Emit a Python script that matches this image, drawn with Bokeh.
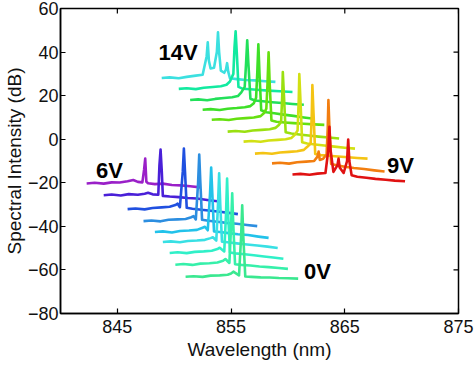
import math
from bokeh.plotting import figure
from bokeh.models import FixedTicker, Range1d, Label
from bokeh.embed import file_html
from bokeh.resources import INLINE

# ---------------- data ----------------
x_ticks = [845, 855, 865, 875]
y_ticks = [-80, -60, -40, -20, 0, 20, 40, 60]
x_lo, x_hi = 840, 875
y_lo, y_hi = -80, 60

# lower group: 6V (top) ... 0V (bottom)
wl_L1 = [842.3, 843.0, 843.8, 844.5, 845.2, 845.9, 846.4, 846.8, 847.2, 847.35, 847.45, 847.55, 847.7, 848.3, 849.0, 849.8, 850.6, 851.4, 852.3]
db_L1 = [-20.3, -20.0, -20.4, -19.8, -19.9, -19.3, -18.7, -19.6, -19.8, -14, -8.9, -19.5, -20.2, -20.6, -20.4, -21.0, -21.2, -21.6, -22.1]
wl_L2 = [843.8, 844.5, 845.3, 846.0, 846.8, 847.4, 847.7, 848.1, 848.6, 848.7, 848.8, 848.9, 849.0, 849.6, 850.4, 851.2, 852.0, 852.9, 853.8]
db_L2 = [-25.7, -25.4, -25.8, -25.2, -25.5, -25.0, -24.6, -25.3, -25.5, -12, -4.8, -14, -26.0, -26.3, -26.6, -27.0, -27.2, -27.9, -28.5]
wl_L3 = [845.9, 846.6, 847.4, 848.1, 848.9, 849.6, 850.1, 850.3, 850.5, 850.75, 850.85, 850.95, 851.1, 851.6, 852.4, 853.2, 854.0, 854.8, 855.6]
db_L3 = [-32.1, -31.8, -32.2, -31.6, -31.3, -31.0, -30.2, -29.6, -31.2, -15, -4.3, -15, -31.5, -31.9, -32.4, -32.8, -33.3, -33.8, -34.4]
wl_L4 = [847.3, 848.0, 848.8, 849.5, 850.3, 851.0, 851.5, 851.7, 851.9, 852.1, 852.2, 852.3, 852.45, 853.0, 853.8, 854.6, 855.5, 856.4, 857.3]
db_L4 = [-37.6, -37.3, -37.7, -37.0, -36.8, -36.6, -35.8, -35.3, -36.8, -20, -7.0, -20, -37.0, -37.4, -37.9, -38.4, -38.8, -39.4, -39.9]
wl_L5 = [848.3, 849.0, 849.8, 850.5, 851.3, 852.0, 852.5, 852.7, 852.95, 853.15, 853.25, 853.35, 853.5, 854.0, 854.8, 855.6, 856.5, 857.4, 858.3]
db_L5 = [-42.6, -42.3, -42.8, -42.1, -41.9, -41.6, -40.6, -40.2, -41.8, -25, -13.0, -25, -42.3, -42.6, -43.1, -43.6, -44.0, -44.7, -45.3]
wl_L6 = [849.0, 849.7, 850.5, 851.2, 852.0, 852.7, 853.2, 853.4, 853.7, 853.85, 853.95, 854.05, 854.2, 854.7, 855.5, 856.4, 857.3, 858.2, 859.1]
db_L6 = [-47.2, -46.9, -47.3, -46.7, -46.5, -46.2, -45.4, -45.0, -46.5, -30, -15.7, -30, -47.0, -47.3, -47.8, -48.3, -48.8, -49.3, -49.9]
wl_L7 = [849.6, 850.3, 851.1, 851.8, 852.6, 853.3, 853.8, 854.0, 854.4, 854.55, 854.65, 854.75, 854.9, 855.4, 856.2, 857.0, 857.9, 858.7, 859.6]
db_L7 = [-52.2, -51.9, -52.3, -51.7, -51.5, -51.2, -50.4, -49.8, -51.5, -35, -18.0, -35, -52.0, -52.4, -52.8, -53.3, -53.8, -54.3, -54.9]
wl_L8 = [850.1, 850.8, 851.6, 852.3, 853.1, 853.8, 854.3, 854.5, 854.85, 855.0, 855.1, 855.2, 855.35, 855.9, 856.7, 857.5, 858.3, 859.2, 860.0]
db_L8 = [-57.6, -57.3, -57.7, -57.1, -56.9, -56.6, -55.8, -55.0, -56.8, -40, -24.8, -40, -57.4, -57.7, -58.0, -58.4, -58.7, -59.1, -59.5]
wl_L9 = [851.0, 851.7, 852.5, 853.2, 854.0, 854.7, 855.0, 855.2, 855.7, 855.88, 855.98, 856.08, 856.25, 856.8, 857.6, 858.4, 859.2, 860.0, 860.9]
db_L9 = [-63.1, -62.9, -63.2, -62.6, -62.5, -62.2, -61.6, -60.8, -62.5, -45, -30.3, -45, -63.0, -63.2, -63.4, -63.5, -63.7, -63.8, -64.0]

# upper group: 14V (top) ... 9V (bottom)
wl_U1 = [848.9, 849.6, 850.4, 851.1, 851.9, 852.5, 852.85, 852.95, 853.05, 853.2, 853.5, 853.75, 853.85, 853.95, 854.1, 854.4, 854.55, 854.65, 854.75, 854.9, 855.5, 856.3, 857.1, 858.0, 858.9]
db_U1 = [28.1, 28.4, 28.0, 28.6, 29.2, 29.6, 38, 44.5, 36, 32.5, 32.8, 40, 49.1, 40, 31.5, 30.5, 32, 34.9, 31, 28.0, 27.6, 27.2, 27.0, 26.6, 26.3]
wl_U2 = [850.4, 851.1, 851.9, 852.6, 853.4, 854.1, 854.6, 854.9, 855.2, 855.3, 855.4, 855.5, 855.65, 856.0, 856.7, 857.5, 858.3, 859.3, 860.4]
db_U2 = [23.1, 23.4, 23.0, 23.6, 24.0, 24.3, 25.0, 26.5, 30, 42, 49.5, 40, 24.0, 23.2, 22.9, 22.6, 22.3, 22.0, 21.7]
wl_U3 = [851.4, 852.1, 852.9, 853.6, 854.4, 855.1, 855.6, 855.9, 856.2, 856.32, 856.42, 856.52, 856.7, 857.1, 857.8, 858.6, 859.5, 860.4, 861.4]
db_U3 = [18.0, 18.3, 17.9, 18.5, 18.9, 19.3, 19.8, 21.5, 24, 35, 45.4, 35, 18.6, 17.8, 17.4, 17.0, 16.6, 16.2, 15.8]
wl_U4 = [852.5, 853.2, 854.0, 854.7, 855.5, 856.2, 856.7, 857.0, 857.2, 857.3, 857.4, 857.5, 857.65, 858.1, 858.8, 859.6, 860.5, 861.4, 862.3]
db_U4 = [13.5, 13.8, 13.4, 14.0, 14.3, 14.7, 15.2, 16.5, 19, 30, 43.6, 30, 13.3, 12.4, 11.9, 11.3, 10.7, 10.0, 9.4]
wl_U5 = [853.3, 854.0, 854.8, 855.5, 856.3, 857.0, 857.6, 857.9, 858.1, 858.2, 858.3, 858.4, 858.55, 859.0, 859.7, 860.5, 861.4, 862.3, 863.2]
db_U5 = [8.9, 9.2, 8.8, 9.4, 9.7, 10.0, 10.6, 12.0, 14, 25, 39.9, 25, 8.6, 8.0, 7.7, 7.4, 7.1, 6.8, 6.6]
wl_U6 = [854.7, 855.4, 856.2, 856.9, 857.7, 858.4, 858.9, 859.2, 859.4, 859.5, 859.55, 859.65, 859.8, 860.3, 861.0, 861.8, 862.7, 863.6, 864.5]
db_U6 = [3.5, 3.8, 3.4, 4.0, 4.3, 4.6, 5.2, 6.5, 8, 20, 30.8, 20, 3.2, 2.6, 2.2, 1.7, 1.2, 0.8, 0.3]
wl_U7 = [856.1, 856.8, 857.6, 858.3, 859.1, 859.8, 860.3, 860.6, 860.85, 860.95, 861.0, 861.1, 861.25, 861.7, 862.4, 863.2, 864.1, 865.0, 865.9]
db_U7 = [-1.1, -0.8, -1.2, -0.6, -0.3, 0.0, 0.6, 2.0, 4, 18, 29.9, 18, -1.4, -2.0, -2.4, -2.9, -3.4, -3.9, -4.3]
wl_U8 = [857.1, 857.8, 858.6, 859.3, 860.1, 860.8, 861.4, 861.7, 862.0, 862.1, 862.15, 862.25, 862.4, 862.9, 863.6, 864.4, 865.3, 866.1, 867.0]
db_U8 = [-6.6, -6.3, -6.7, -6.1, -5.8, -5.5, -4.9, -3.5, -2, 12, 24.9, 12, -6.8, -7.3, -7.6, -7.9, -8.3, -8.6, -8.9]
wl_U9 = [858.6, 859.3, 860.1, 860.8, 861.6, 862.3, 862.6, 862.7, 862.8, 863.1, 863.4, 863.5, 863.56, 863.65, 863.8, 864.3, 865.0, 865.8, 866.7, 867.6, 868.5]
db_U9 = [-11.1, -10.8, -11.2, -10.6, -10.3, -10.0, -8, -5.7, -9.5, -9.0, -7, 5, 18.0, 5, -11.4, -12.0, -12.6, -13.2, -13.7, -14.3, -14.8]
wl_U10 = [860.4, 861.1, 861.9, 862.6, 863.3, 863.55, 863.65, 863.75, 864.0, 864.35, 864.45, 864.55, 864.9, 865.2, 865.3, 865.4, 865.6, 866.1, 866.9, 867.7, 868.6, 869.4, 870.3]
db_U10 = [-16.2, -15.9, -16.3, -15.8, -15.5, -5, 5.7, -5, -15.0, -12, -8.9, -13, -15.5, -10, -0.2, -10, -16.5, -17.2, -17.7, -18.2, -18.6, -19.0, -19.3]

lower_colors = ["#9a20c8", "#4a20d8", "#2050e0", "#2c8ee0", "#22c2ea", "#38e0e4", "#30f0c8", "#36f0aa", "#3ae890"]
upper_colors = ["#3ce0e0", "#12eaa0", "#22e05a", "#3ee028", "#66e010", "#9ae010", "#d2e014", "#f4c414", "#f27e10", "#e01212"]

labels = ["14V", "6V", "9V", "0V"]
label_wl = [850.35, 844.3, 869.9, 862.6]
label_db = [39.7, -14.3, -12.0, -60.8]

# ---------------- figure ----------------
p = figure(width=474, height=366, output_backend="svg", toolbar_location=None,
           x_range=Range1d(x_lo, x_hi), y_range=Range1d(y_lo, y_hi),
           min_border_left=58, min_border_right=16, min_border_top=8, min_border_bottom=53)
p.background_fill_color = "white"
p.border_fill_color = "white"
p.outline_line_color = "black"
p.outline_line_width = 1.5
p.grid.visible = False

FONT = "Liberation Sans"

for ax in (p.xaxis[0], p.yaxis[0]):
    ax.major_tick_in = 5
    ax.major_tick_out = 0
    ax.minor_tick_in = 0
    ax.minor_tick_out = 0
    ax.axis_line_color = "black"
    ax.axis_line_width = 1.5
    ax.major_tick_line_color = "black"
    ax.major_tick_line_width = 1.2
    ax.major_label_text_font = FONT
    ax.major_label_text_font_size = "18px"
    ax.major_label_text_color = "#111111"
    ax.axis_label_text_font = FONT
    ax.axis_label_text_font_size = "19px"
    ax.axis_label_text_font_style = "normal"
    ax.axis_label_text_color = "#111111"

p.xaxis[0].major_label_standoff = 6
p.xaxis[0].axis_label_standoff = 3
p.yaxis[0].major_label_standoff = 2
p.yaxis[0].axis_label_standoff = 0

p.xaxis[0].ticker = FixedTicker(ticks=x_ticks)
p.yaxis[0].ticker = FixedTicker(ticks=y_ticks)
p.xaxis[0].axis_label = "Wavelength (nm)"
p.yaxis[0].axis_label = "Spectral Intensity (dB)"

# box ticks on the top and right edges (inward, like the reference)
p.scatter(x=x_ticks, y=[y_hi] * len(x_ticks), marker="dash", size=10, angle=math.pi / 2,
          line_color="black", line_width=1.2)
p.scatter(x=[x_hi] * len(y_ticks), y=y_ticks, marker="dash", size=10,
          line_color="black", line_width=1.2)

lower = [(wl_L1, db_L1), (wl_L2, db_L2), (wl_L3, db_L3), (wl_L4, db_L4), (wl_L5, db_L5),
         (wl_L6, db_L6), (wl_L7, db_L7), (wl_L8, db_L8), (wl_L9, db_L9)]
upper = [(wl_U1, db_U1), (wl_U2, db_U2), (wl_U3, db_U3), (wl_U4, db_U4), (wl_U5, db_U5),
         (wl_U6, db_U6), (wl_U7, db_U7), (wl_U8, db_U8), (wl_U9, db_U9), (wl_U10, db_U10)]

for (xs, ys), c in zip(lower, lower_colors):
    p.line(xs, ys, line_color=c, line_width=2.6, line_join="round")
for (xs, ys), c in zip(upper, upper_colors):
    p.line(xs, ys, line_color=c, line_width=2.6, line_join="round")

for t, xw, yd in zip(labels, label_wl, label_db):
    p.add_layout(Label(x=xw, y=yd, text=t, text_font=FONT, text_font_size="22px",
                       text_font_style="bold", text_color="black",
                       text_align="center", text_baseline="middle"))

open("out.html", "w").write(file_html(p, INLINE))
